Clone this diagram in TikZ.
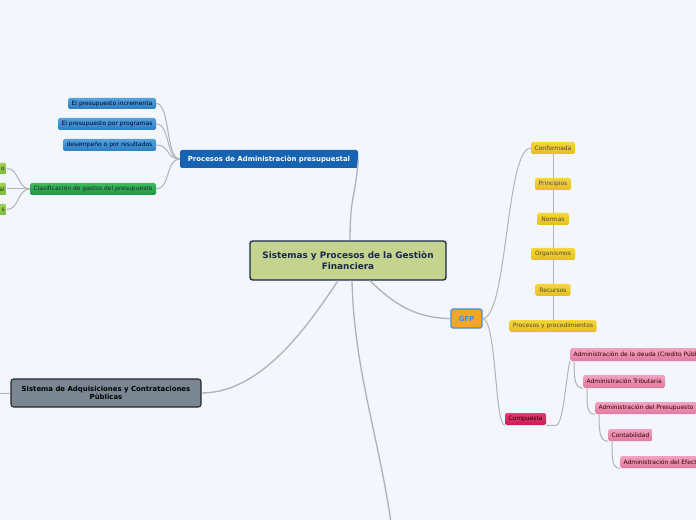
\documentclass[tikz,border=0pt]{standalone}
\usepackage{fontspec}
\setmainfont{DejaVu Sans}

\definecolor{bgc}{RGB}{243,246,253}
\definecolor{linkc}{RGB}{178,178,184}
\definecolor{cenfill}{RGB}{196,211,142}
\definecolor{cendraw}{RGB}{24,40,74}
\definecolor{procfill}{RGB}{22,99,180}
\definecolor{bluetop}{RGB}{84,162,222}
\definecolor{bluebot}{RGB}{44,126,196}
\definecolor{greentop}{RGB}{60,190,96}
\definecolor{greenbot}{RGB}{30,150,66}
\definecolor{lgreentop}{RGB}{160,210,90}
\definecolor{lgreenbot}{RGB}{124,186,58}
\definecolor{gfpfill}{RGB}{246,166,35}
\definecolor{gfpdraw}{RGB}{62,142,232}
\definecolor{yeltop}{RGB}{245,214,60}
\definecolor{yelbot}{RGB}{228,190,30}
\definecolor{comptop}{RGB}{228,60,112}
\definecolor{compbot}{RGB}{200,28,84}
\definecolor{pinktop}{RGB}{242,162,192}
\definecolor{pinkbot}{RGB}{226,122,160}
\definecolor{sisfill}{RGB}{122,135,147}

\begin{document}
\begin{tikzpicture}[x=0.75pt,y=0.75pt,yscale=-1,xscale=1,
  link/.style={draw=linkc,line width=0.75pt},
  box/.style={rounded corners=1.2pt,inner sep=0pt,align=center,font=\fontsize{4.5}{5.5}\selectfont},
  bluebox/.style={box,top color=bluetop,bottom color=bluebot,text=black!85!blue},
  greenbox/.style={box,top color=greentop,bottom color=greenbot,text=black!85},
  lgreenbox/.style={box,top color=lgreentop,bottom color=lgreenbot,text=black!85},
  yelbox/.style={box,top color=yeltop,bottom color=yelbot,text=black!80!yellow,minimum height=9pt},
  pinkbox/.style={box,top color=pinktop,bottom color=pinkbot,text=black!80!red,inner xsep=2.5pt,anchor=west,minimum height=9pt}
]
%uncomment if require: \path (0,520); %set diagram left start at 0, and has height of 520
\useasboundingbox (0,0) rectangle (696,520);
\fill[bgc] (0,0) rectangle (696,520);
\clip (0,0) rectangle (696,520);

%Node: central topic
\node[box,fill=cenfill,draw=cendraw,line width=1pt,rounded corners=2pt,text=cendraw,
  minimum width=147pt,minimum height=29.25pt,font=\fontsize{6.65}{8.2}\selectfont\bfseries] (cen) at (348,260.5) {Sistemas y Procesos de la Gestiòn\\Financiera};

%Node: procesos de administracion
\node[box,fill=procfill,text=white,minimum width=133.5pt,minimum height=13.5pt,font=\fontsize{5.2}{6}\selectfont\bfseries] (proc) at (269,159) {Procesos de Administraciòn presupuestal};
\node[bluebox,minimum width=66pt,minimum height=8.25pt] (inc) at (112,103.5) {El presupuesto incrementa};
\node[bluebox,minimum width=73.5pt,minimum height=9pt] (prog) at (107,124) {El presupuesto por programas};
\node[bluebox,minimum width=69.75pt,minimum height=9pt] (des) at (109.5,145) {desempeño o por resultados};
\node[greenbox,minimum width=94.5pt,minimum height=9pt] (clas) at (93,189) {Clasificación de gastos del presupuesto};
\node[lgreenbox,anchor=east,text width=42pt,align=right,inner xsep=1.5pt,minimum height=8.25pt] (glo) at (7,168.5) {o};
\node[lgreenbox,anchor=east,text width=42pt,align=right,inner xsep=1.5pt,minimum height=9pt] (gla) at (7,189) {al};
\node[lgreenbox,anchor=east,text width=42pt,align=right,inner xsep=1.5pt,minimum height=8.25pt] (gls) at (7,209.5) {s};

%Node: sistema de adquisiciones
\node[box,fill=sisfill,draw=black!85,line width=0.8pt,rounded corners=2pt,minimum width=142.5pt,minimum height=21pt,
  font=\fontsize{5.2}{6.2}\selectfont\bfseries] (sis) at (106,393) {Sistema de Adquisiciones y Contrataciones\\Pùblicas};
\coordinate (offl) at (-12,393);
\coordinate (offb) at (392,530);

%Node: GFP
\node[box,fill=gfpfill,draw=gfpdraw,line width=0.8pt,text=gfpdraw,minimum width=23.25pt,minimum height=14.25pt,
  font=\fontsize{5.2}{6}\selectfont\bfseries] (gfp) at (466.5,318.5) {GFP};
\node[yelbox,minimum width=33pt] (conf) at (553,148) {Conformada};
\node[yelbox,minimum width=27pt] (prin) at (553,184) {Principios};
\node[yelbox,minimum width=24pt] (norm) at (553,219) {Normas};
\node[yelbox,minimum width=33pt] (org) at (553,254) {Organismos};
\node[yelbox,minimum width=26.25pt] (rec) at (553,290) {Recursos};
\node[yelbox,minimum width=65.25pt] (pyp) at (553,326) {Procesos y procedimientos};
\node[box,top color=comptop,bottom color=compbot,text=black!85!red,minimum width=30.75pt,minimum height=9pt] (comp) at (525.5,419) {Compuesta};
\node[pinkbox,minimum height=9.75pt] (deuda) at (570,354.5) {Administración de la deuda (Credito Público)};
\node[pinkbox,minimum height=9.75pt] (trib) at (583,381.5) {Administración Tributaria};
\node[pinkbox] (pres) at (595,408) {Administración del Presupuesto};
\node[pinkbox] (cont) at (608,435) {Contabilidad};
\node[pinkbox] (efec) at (620,462) {Administración del Efectivo};

%Connectors
\draw[link,line width=1pt] ([xshift=1.5pt]cen.north) .. controls +(0,-45) and +(-3,40) .. (proc.east);
\draw[link,line width=1pt] ([xshift=16.5pt]cen.south) .. controls +(22,22) and +(-35,0) .. (gfp.west);
\draw[link,line width=1pt] (sis.east) .. controls +(60,0) and +(-30,45) .. ([xshift=-7.5pt]cen.south);
\draw[link,line width=1pt] ([xshift=3pt]cen.south) .. controls +(2,90) and +(-12,-90) .. (offb);
\draw[link] (sis.west) -- (offl);
\foreach \n in {inc,prog,des,clas}
  \draw[link] (proc.west) .. controls +(-14,0) and +(14,0) .. (\n.east);
\foreach \n in {glo,gla,gls}
  \draw[link] (clas.west) .. controls +(-12,0) and +(12,0) .. (\n.east);
\draw[link] (gfp.east) .. controls +(25,0) and +(-25,0) .. (conf.west);
\foreach \a/\b in {conf/prin,prin/norm,norm/org,org/rec,rec/pyp}
  \draw[link] (\a.south) -- (\b.north);
\draw[link] (gfp.east) .. controls +(14,0) and +(-10,0) .. (comp.south west);
\draw[link] (comp.south east) -- ++(10,0) .. controls +(7,0) and +(-3,8) .. (deuda.south west);
\foreach \a/\b in {deuda/trib,trib/pres,pres/cont,cont/efec}
  \draw[link] ([xshift=3pt]\a.south west) .. controls +(0,18) and +(-8,0) .. (\b.south west);

\end{tikzpicture}
\end{document}
